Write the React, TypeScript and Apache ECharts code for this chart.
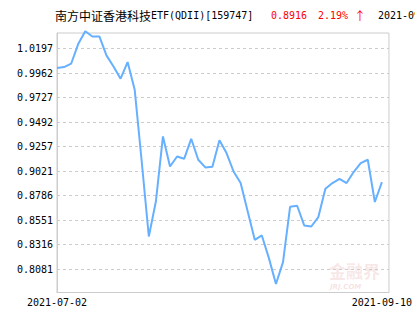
import React, { useEffect, useRef } from "react";
import * as echarts from "echarts";

const fundName = "南方中证香港科技";
const fundCode = "ETF(QDII)[159747]";
const latestValue = "0.8916";
const latestChange = "2.19%";
const changeArrow = "↑";
const latestDate = "2021-09-10";

const values = [
  1.0012, 1.0021, 1.0053, 1.0242, 1.0365, 1.0315, 1.0315, 1.0133, 1.0027, 0.9909,
  1.0069, 0.9803, 0.9109, 0.8394, 0.873, 0.9355, 0.9066, 0.9162, 0.914, 0.9332,
  0.9131, 0.9057, 0.9064, 0.9318, 0.9195, 0.9018, 0.8907, 0.8634, 0.8362, 0.8404,
  0.8186, 0.7937, 0.8148, 0.8679, 0.8689, 0.85, 0.849, 0.858, 0.8852, 0.8907,
  0.8948, 0.8907, 0.9013, 0.9099, 0.9131, 0.8725, 0.8916,
];

const yTicks = [0.8081, 0.8316, 0.8551, 0.8786, 0.9021, 0.9257, 0.9492, 0.9727, 0.9962, 1.0197];
const xLabelIndex = [0, 46];
const xLabels = ["2021-07-02", "2021-09-10"];

const MONO = "'DejaVu Sans Mono', monospace";
const CJK = "'Noto Sans CJK SC', sans-serif";

export default function App() {
  const ref = useRef<HTMLDivElement>(null);
  useEffect(() => {
    if (!ref.current) return;
    const chart = echarts.init(ref.current, null, { renderer: "svg" });
    chart.setOption({
      animation: false,
      backgroundColor: "#ffffff",
      grid: {
        left: 57,
        top: 33,
        right: 22.5,
        bottom: 37.5,
        show: true,
        borderColor: "#cccccc",
        borderWidth: 1,
        backgroundColor: "transparent",
      },
      xAxis: {
        type: "value",
        min: 0,
        max: 47,
        axisLine: { show: true, lineStyle: { color: "#cccccc", width: 1 } },
        axisTick: { show: false, customValues: xLabelIndex },
        splitLine: { show: false },
        axisLabel: {
          customValues: xLabelIndex,
          showMinLabel: true,
          showMaxLabel: true,
          color: "#000000",
          fontFamily: MONO,
          fontSize: 10,
          margin: 5,
          formatter: (v: number) => {
            const k = xLabelIndex.indexOf(Math.round(v));
            return k >= 0 ? xLabels[k] : "";
          },
        },
      },
      yAxis: {
        type: "value",
        min: 0.7856,
        max: 1.0348,
        axisLine: { show: true, lineStyle: { color: "#cccccc", width: 1 } },
        axisTick: { show: false, customValues: yTicks },
        splitLine: {
          show: true,
          lineStyle: { color: "#cccccc", type: [3, 3], width: 1 },
        },
        axisLabel: {
          customValues: yTicks,
          color: "#000000",
          fontFamily: MONO,
          fontSize: 10,
          margin: 4,
          formatter: (v: number) => v.toFixed(4),
        },
      },
      graphic: [
        {
          type: "text",
          left: 55,
          top: 9,
          style: {
            text: "{a|" + fundName + "}{b|" + fundCode + "}",
            rich: {
              a: { fontFamily: CJK, fontSize: 12, fill: "#000000" },
              b: { fontFamily: MONO, fontSize: 10, fill: "#000000" },
            },
          },
        },
        {
          type: "text",
          x: 271,
          y: 15,
          style: {
            text: latestValue,
            fontFamily: MONO,
            fontSize: 10,
            fill: "#ff0000",
            verticalAlign: "middle",
          },
        },
        {
          type: "text",
          x: 318,
          y: 15,
          style: {
            text: "{p|" + latestChange + " }{r|" + changeArrow + "}",
            verticalAlign: "middle",
            rich: {
              p: { fontFamily: MONO, fontSize: 10, fill: "#ff0000" },
              r: { fontFamily: CJK, fontSize: 12, fill: "#ff0000" },
            },
          },
        },
        {
          type: "text",
          x: 378,
          y: 15,
          style: {
            text: latestDate,
            fontFamily: MONO,
            fontSize: 10,
            fill: "#000000",
            verticalAlign: "middle",
          },
        },
        {
          type: "text",
          x: 329,
          y: 262,
          z: -1,
          style: {
            text: "金融界",
            fontFamily: CJK,
            fontSize: 17,
            fontWeight: "bold",
            fill: "rgba(225,160,160,0.25)",
          },
        },
        {
          type: "text",
          x: 330,
          y: 283,
          z: -1,
          style: {
            text: "JRJ.COM",
            fontFamily: "'DejaVu Sans', sans-serif",
            fontSize: 7,
            fontWeight: "bold",
            fontStyle: "italic",
            fill: "rgba(225,160,160,0.3)",
          },
        },
      ],
      series: [
        {
          type: "line",
          data: values.map((v, i) => [i, v]),
          showSymbol: false,
          symbol: "none",
          clip: false,
          lineStyle: { color: "#66b0ff", width: 2 },
          itemStyle: { color: "#66b0ff" },
          z: 3,
        },
      ],
    });
    return () => chart.dispose();
  }, []);
  return (
    <div
      ref={ref}
      style={{ position: "fixed", left: 0, top: 0, width: 415, height: 330 }}
    />
  );
}
